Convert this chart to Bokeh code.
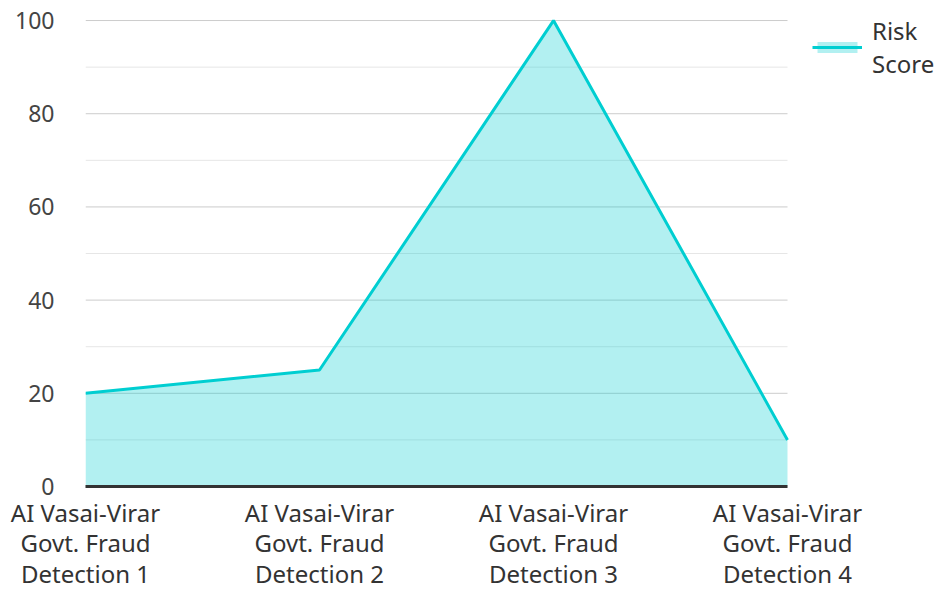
from bokeh.plotting import figure
from bokeh.models import Legend, LegendItem, FixedTicker, Range1d, ColumnDataSource
from bokeh.embed import file_html
from bokeh.resources import INLINE

categories = ["AI Vasai-Virar\nGovt. Fraud\nDetection 1",
              "AI Vasai-Virar\nGovt. Fraud\nDetection 2",
              "AI Vasai-Virar\nGovt. Fraud\nDetection 3",
              "AI Vasai-Virar\nGovt. Fraud\nDetection 4"]
risk_score = [20, 25, 100, 10]
y_ticks = [0, 20, 40, 60, 80, 100]
y_minor = [10, 30, 50, 70, 90]
series_name = "Risk\nScore"

xs = list(range(len(categories)))
last = len(categories) - 1
src = ColumnDataSource(dict(x=xs, y=risk_score, y0=[0] * len(xs)))

FONT = "Noto Sans"
W, H = 936, 592
BL, BB = 85, 104
FRAME_BOTTOM = 485                       # expected frame bottom after axis sizing
PLOT_TOP, PLOT_RIGHT = 20, 787          # pixel position of y=100 and of the last category
frame_w = W - BL
px_per_cat = (PLOT_RIGHT - BL) / last
x_end = frame_w / px_per_cat
px_per_y = (FRAME_BOTTOM - PLOT_TOP) / 100
y_end = 100 + PLOT_TOP / px_per_y

p = figure(width=W, height=H, output_backend="svg", toolbar_location=None,
           x_range=Range1d(0, x_end), y_range=Range1d(0, y_end),
           min_border_left=BL, min_border_top=0, min_border_right=0, min_border_bottom=BB)
p.outline_line_color = None
p.background_fill_color = "white"
p.xgrid.grid_line_color = None
p.ygrid.grid_line_color = None

# gridlines limited to the category span
p.segment(x0=[0] * len(y_minor), x1=[last] * len(y_minor), y0=y_minor, y1=y_minor,
          line_color="#e6e6e6", line_width=1)
p.segment(x0=[0] * len(y_ticks), x1=[last] * len(y_ticks), y0=y_ticks, y1=y_ticks,
          line_color="#cccccc", line_width=1)

area = p.varea(x="x", y1="y0", y2="y", source=src, fill_color="#00CED1", fill_alpha=0.3)
line = p.line(x="x", y="y", source=src, line_color="#00CED1", line_width=3)

p.yaxis.ticker = FixedTicker(ticks=y_ticks)
p.yaxis.axis_line_color = None
p.yaxis.major_tick_line_color = None
p.yaxis.minor_tick_line_color = None
p.yaxis.major_label_standoff = 25
p.yaxis.major_label_text_font = FONT
p.yaxis.major_label_text_font_size = "23px"
p.yaxis.major_label_text_color = "#444444"

p.xaxis.ticker = FixedTicker(ticks=xs)
p.xaxis.bounds = (0, last)
p.xaxis.major_label_overrides = {i: c for i, c in enumerate(categories)}
p.xaxis.axis_line_color = "#333333"
p.xaxis.axis_line_width = 3
p.xaxis.major_tick_line_color = None
p.xaxis.minor_tick_line_color = None
p.xaxis.major_label_standoff = 3
p.xaxis.major_label_text_font = FONT
p.xaxis.major_label_text_font_size = "24px"
p.xaxis.major_label_text_line_height = 0.93
p.xaxis.major_label_text_color = "#333333"

legend = Legend(items=[LegendItem(label=series_name, renderers=[area, line])],
                location=(812 - BL, FRAME_BOTTOM - 79), border_line_color=None, background_fill_alpha=0,
                label_text_font=FONT, label_text_font_size="24px", label_text_color="#333333",
                label_text_line_height=0.92,
                glyph_width=50, glyph_height=14, label_standoff=10, padding=0, margin=0,
                spacing=0)
p.add_layout(legend, "center")

open("out.html", "w").write(file_html(p, INLINE))
